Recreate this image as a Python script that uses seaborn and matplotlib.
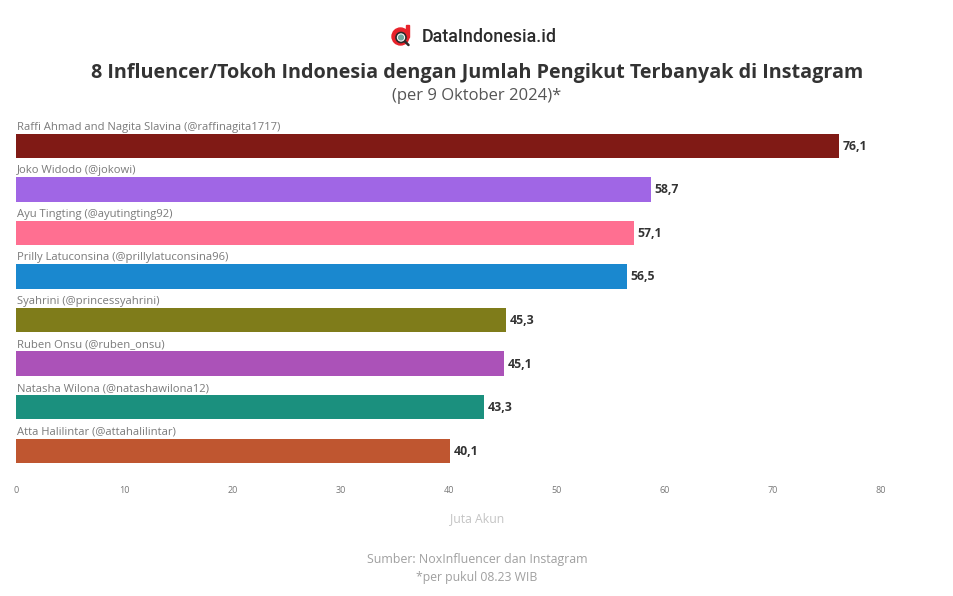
import matplotlib
matplotlib.use("Agg")
import matplotlib.pyplot as plt
import seaborn as sns
import pandas as pd
from matplotlib.patches import Circle, Rectangle

names = ["Raffi Ahmad and Nagita Slavina (@raffinagita1717)", "Joko Widodo (@jokowi)",
         "Ayu Tingting (@ayutingting92)", "Prilly Latuconsina (@prillylatuconsina96)",
         "Syahrini (@princessyahrini)", "Ruben Onsu (@ruben_onsu)",
         "Natasha Wilona (@natashawilona12)", "Atta Halilintar (@attahalilintar)"]
values = [76.1, 58.7, 57.1, 56.5, 45.3, 45.1, 43.3, 40.1]
value_labels = ["76,1", "58,7", "57,1", "56,5", "45,3", "45,1", "43,3", "40,1"]
colors = ["#801a15", "#a066e5", "#ff6f91", "#1a88cf", "#7f7c1a", "#ab52b8", "#1b907e", "#bf5630"]
xticks = [0, 10, 20, 30, 40, 50, 60, 70, 80]

sns.set_theme(style="white")
plt.rcParams['font.family'] = ['Open Sans', 'DejaVu Sans']
W, H = 954, 596
fig = plt.figure(figsize=(W/100, H/100), dpi=100, facecolor="white")
top, bottom = 124.0, 472.5
ax = fig.add_axes([16.5/W, 1-bottom/H, (881-16.5)/W, (bottom-top)/H])
df = pd.DataFrame({"name": names, "value": values})
sns.barplot(data=df, y="name", x="value", hue="name", palette=colors, legend=False,
            order=names, width=0.56, ax=ax, dodge=False, saturation=1, linewidth=0)
ax.set_xlim(0, 80)
ax.set_ylim(len(names)-0.5, -0.5)
ax.set_ylabel("")
ax.set_xlabel("")
ax.set_yticks([])
ax.set_xticks(xticks)
ax.tick_params(axis="x", labelsize=6.5, labelcolor="#777777", length=0, pad=10)
sns.despine(ax=ax, left=True, bottom=True)
for i, (n, v, vl) in enumerate(zip(names, values, value_labels)):
    ax.text(0.05, i-0.30, n, fontsize=8.1, color="#7a7a7a", ha="left", va="bottom")
    ax.text(v+0.35, i+0.01, vl, fontsize=8.8, fontweight="bold", color="#333333", ha="left", va="center")

def fx(x): return x/W
def fy(y): return 1-y/H
fig.text(fx(477), fy(518.5), "Juta Akun", fontsize=8.8, color="#c4c4c4", ha="center", va="center")
fig.text(fx(477), fy(559.5), "Sumber: NoxInfluencer dan Instagram", fontsize=8.9, color="#a0a0a0", ha="center", va="center")
fig.text(fx(477), fy(577), "*per pukul 08.23 WIB", fontsize=8.8, color="#a0a0a0", ha="center", va="center")
fig.text(fx(477), fy(73), "8 Influencer/Tokoh Indonesia dengan Jumlah Pengikut Terbanyak di Instagram",
         fontsize=14.2, fontweight="bold", color="#333333", ha="center", va="center")
fig.text(fx(477), fy(95.5), "(per 9 Oktober 2024)*", fontsize=12, color="#555555", ha="center", va="center")
fig.text(fx(422), fy(37), "DataIndonesia.id", fontsize=12.9, fontweight="medium", color="#2b2b2b", ha="left", va="center", family=["Roboto", "DejaVu Sans"])

# logo
lax = fig.add_axes([388/W, 1-48/H, 24/W, 24/H])
lax.set_xlim(388, 412); lax.set_ylim(48, 24); lax.axis("off")
lax.add_patch(Circle((400.5, 36.5), 8.5, color="#e8232b"))
lax.add_patch(Rectangle((405.5, 25), 3.5, 12, color="#e8232b"))
lax.add_patch(Circle((401, 37.5), 5.0, color="white", ec="#2b2b2b", lw=1.2))
lax.add_patch(Circle((401, 37.5), 2.4, color="#6fa8a0"))
lax.plot([405, 408.5], [41.5, 45], color="#2b2b2b", lw=1.8)

fig.savefig("out.png", dpi=100, facecolor="white")
